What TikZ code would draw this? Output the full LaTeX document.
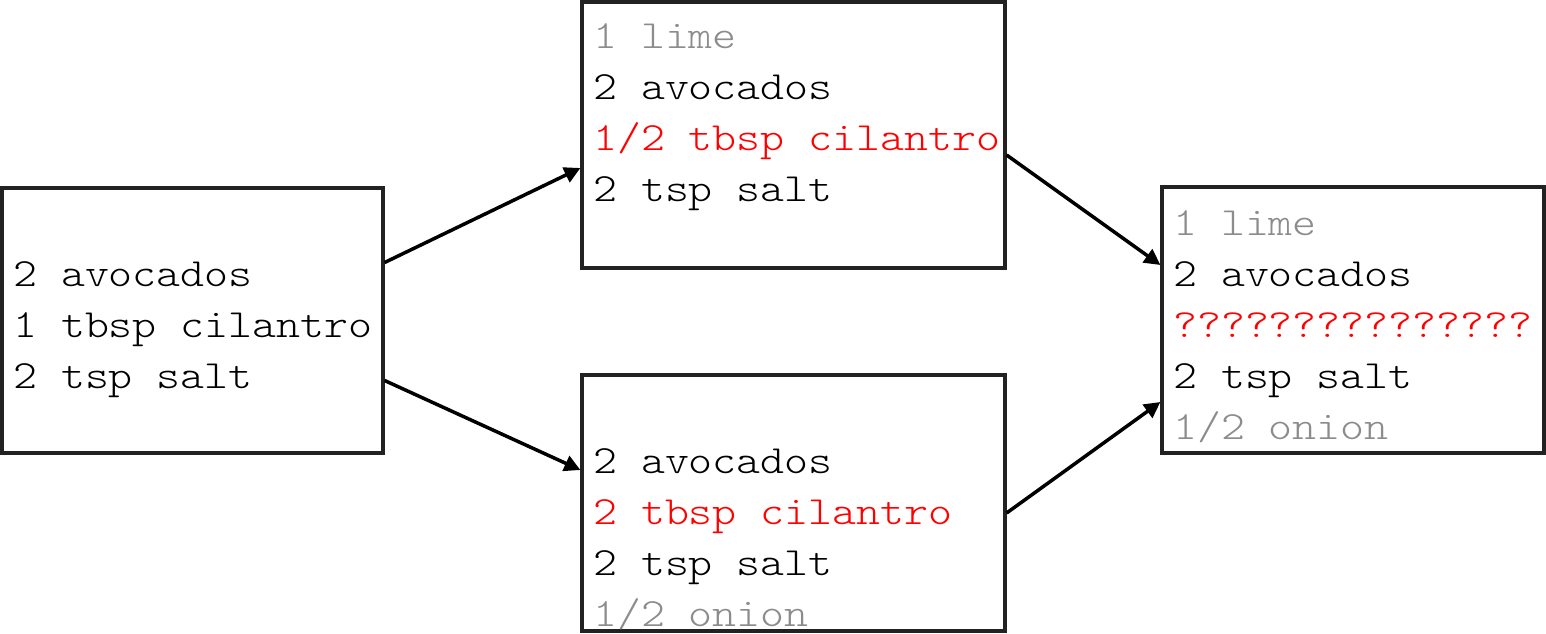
\documentclass[tikz,border=0pt]{standalone}
\usepackage{fontspec}
\setmonofont[FakeStretch=1.14]{Latin Modern Mono Light}
\usetikzlibrary{arrows.meta}
\definecolor{boxc}{HTML}{222222}
\definecolor{grayt}{HTML}{8C8C8C}
\definecolor{redt}{HTML}{FF0000}
\tikzset{
  box/.style={draw=boxc, line width=3.2pt, inner sep=0pt},
  ln/.style={anchor=base west, inner sep=0pt, font=\ttfamily\fontsize{40}{40}\selectfont},
  arr/.style={line width=3.5pt, -{Triangle[length=16pt,width=16pt]}},
}
\begin{document}
\begin{tikzpicture}[x=1pt,y=-1pt]
\useasboundingbox (0,0) rectangle (1546,633);
% boxes
\node[box, minimum width=381pt, minimum height=265pt] (L) at (192.5,320.5) {};
\node[box, minimum width=423pt, minimum height=266pt] (T) at (793.5,135) {};
\node[box, minimum width=423pt, minimum height=256pt] (B) at (793.5,503) {};
\node[box, minimum width=382pt, minimum height=266pt] (R) at (1353,320) {};
% left text
\node[ln] (l1) at (13,286) {2 avocados};
\node[ln] (l2) at (13,337) {1 tbsp cilantro};
\node[ln] (l3) at (13,388) {2 tsp salt};
% top text
\node[ln, text=grayt] (t1) at (593,48) {1 lime};
\node[ln] (t2) at (593,99) {2 avocados};
\node[ln, text=redt] (t3) at (593,150) {1/2 tbsp cilantro};
\node[ln] (t4) at (593,201) {2 tsp salt};
% bottom text
\node[ln] (b1) at (593,473) {2 avocados};
\node[ln, text=redt] (b2) at (593,524) {2 tbsp cilantro};
\node[ln] (b3) at (593,575) {2 tsp salt};
\node[ln, text=grayt] (b4) at (593,626) {1/2 onion};
% right text
\node[ln, text=grayt] (r1) at (1173,235) {1 lime};
\node[ln] (r2) at (1173,286) {2 avocados};
\node[ln, text=redt] (r3) at (1173,337) {???????????????};
\node[ln] (r4) at (1173,388) {2 tsp salt};
\node[ln, text=grayt] (r5) at (1173,439) {1/2 onion};
% connector end points
\coordinate (La) at ([yshift=58pt]L.east);
\coordinate (Lb) at ([yshift=-60pt]L.east);
\coordinate (Ta) at ([yshift=-33pt]T.west);
\coordinate (Tb) at ([yshift=-20pt]T.east);
\coordinate (Ba) at ([yshift=33pt]B.west);
\coordinate (Bb) at ([yshift=-10pt]B.east);
\coordinate (Ra) at ([yshift=55pt]R.west);
\coordinate (Rb) at ([yshift=-82pt]R.west);
\draw[arr] (La) -- (Ta);
\draw[arr] (Lb) -- (Ba);
\draw[arr] (Tb) -- (Ra);
\draw[arr] (Bb) -- (Rb);
\end{tikzpicture}
\end{document}
